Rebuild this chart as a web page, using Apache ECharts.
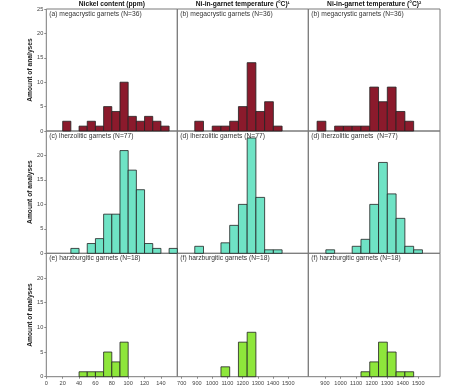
<!DOCTYPE html>
<html><head><meta charset="utf-8">
<script src="https://cdn.jsdelivr.net/npm/echarts@6/dist/echarts.min.js"></script>
<style>html,body{margin:0;padding:0;background:#fff}#c{width:474px;height:390px}</style>
</head><body><div id="c"></div>
<script>
// ---- data ----
const nickelBinStart = [0,10,20,30,40,50,60,70,80,90,100,110,120,130,140,150];
const tempBinStart = [800,850,900,950,1000,1050,1100,1150,1200,1250,1300,1350,1400,1450,1500];

const megaNickel  = [0,0,2,0,1,2,1,5,4,10,3,2,3,2,1,0];
const lherzNickel = [0,0,0,1,0,2,3,8,8,21,17,13,2,1,0,1];
const harzNickel  = [0,0,0,0,1,1,1,5,3,7,0,0,0,0,0,0];

const megaTemp1  = [0,0,2,0,1,1,2,5,14,4,6,1,0,0,0];
const lherzTemp1 = [0,0,2,0,0,3,8,14,33,16,1,1,0,0,0];
const harzTemp1  = [0,0,0,0,0,2,0,7,9,0,0,0,0,0,0];

const megaTemp2  = [0,2,0,1,1,1,1,9,6,9,4,2,0,0,0];
const lherzTemp2 = [0,0,1,0,0,2,4,14,26,17,10,2,1,0,0];
const harzTemp2  = [0,0,0,0,0,0,1,3,7,5,1,1,0,0,0];

const nickelTickLabels = ['0','20','40','60','80','100','120','140'];
const temp1TickLabels = ['700','900','1000','1100','1200','1300','1400','1500'];
const temp2TickLabels = ['900','1000','1100','1200','1300','1400','1500'];

const columnTitles = ['Nickel content (ppm)','Ni-in-garnet temperature (\u00B0C)\u00B9','Ni-in-garnet temperature (\u00B0C)\u00B2'];
const panelLabels = [
  ['(a) megacrystic garnets (N=36)','(b) megacrystic garnets (N=36)','(b) megacrystic garnets (N=36)'],
  ['(c) lherzolitic garnets (N=77)','(d) lherzolitic garnets (N=77)','(d) lherzolitic garnets  (N=77)'],
  ['(e) harzburgitic garnets (N=18)','(f) harzburgitic garnets (N=18)','(f) harzburgitic garnets (N=18)']
];
const yAxisName = 'Amount of analyses';

// ---- layout / style ----
const panelSeries = [
  [megaNickel, megaTemp1, megaTemp2],
  [lherzNickel, lherzTemp1, lherzTemp2],
  [harzNickel, harzTemp1, harzTemp2]
];
const rowColors = ['#8b1a2c', '#6fe3c5', '#8ee63b'];
const colLeft = [46.3, 177.3, 308.3];
const colWidth = [131, 131, 131.7];
const rowTop = [9, 131, 253.3];
const rowHeight = [122, 122.3, 123.4];
const yMaxGrid = [[25,25,25],[25,35,35],[25,25,25]];
const FONT = 'Liberation Sans, Arial, sans-serif';
const FS = 6.7;
const TFS = 5.6;

const grids = [], xAxes = [], yAxes = [], series = [], graphics = [];

for (let r = 0; r < 3; r++) {
  for (let c = 0; c < 3; c++) {
    const g = r * 3 + c;
    grids.push({left: colLeft[c], top: rowTop[r], width: colWidth[c], height: rowHeight[r],
      show: true, borderColor: '#7a7a7a', borderWidth: 1, backgroundColor: 'transparent'});
    const isNi = c === 0;
    const bins = isNi ? nickelBinStart : tempBinStart;
    const w = bins[1] - bins[0];
    const showX = (r === 2 && c === 0);
    const dataAxisIdx = xAxes.length;
    xAxes.push({
      gridIndex: g, type: 'value', position: 'bottom',
      min: isNi ? 0 : 800, max: isNi ? 160 : 1550,
      interval: isNi ? 20 : 50,
      axisLine: {show: false}, splitLine: {show: false},
      axisTick: {show: showX, length: 2, lineStyle: {color: '#888'}},
      axisLabel: {show: showX, showMaxLabel: false, fontSize: TFS, color: '#444', fontFamily: FONT, margin: 4,
        formatter: v => { const i = nickelTickLabels.indexOf(String(v)); return i >= 0 ? nickelTickLabels[i] : ''; }}
    });
    if (r === 2 && c > 0) {
      const labels = c === 1 ? temp1TickLabels : temp2TickLabels;
      const mn = c === 1 ? -0.289 : -1.074;
      const step = c === 1 ? 15.23 : 15.55;
      const vals = labels.map((_, i) => i);
      xAxes.push({
        gridIndex: g, type: 'value', position: 'bottom',
        min: mn, max: mn + colWidth[c] / step,
        axisLine: {show: false}, splitLine: {show: false},
        axisTick: {show: true, length: 2, customValues: vals, lineStyle: {color: '#888'}},
        axisLabel: {show: true, customValues: vals, fontSize: TFS, color: '#444', fontFamily: FONT, margin: 4,
          formatter: v => labels[Math.round(v)] || ''}
      });
    }
    yAxes.push({
      gridIndex: g, type: 'value', min: 0, max: yMaxGrid[r][c], interval: 5,
      axisLine: {show: false}, splitLine: {show: false},
      axisTick: {show: c === 0, length: 2, lineStyle: {color: '#888'}},
      axisLabel: {show: c === 0, showMaxLabel: r === 0, fontSize: TFS, color: '#444', fontFamily: FONT, margin: 3},
      name: c === 0 ? yAxisName : '', nameLocation: 'middle', nameGap: 7,
      nameTextStyle: {fontSize: FS, fontWeight: 'bold', color: '#222', fontFamily: FONT}
    });
    const counts = panelSeries[r][c];
    const data = bins.map((s, j) => [s, s + w, counts[j]]).filter(d => d[2] > 0);
    const color = rowColors[r];
    series.push({
      type: 'custom', xAxisIndex: dataAxisIdx, yAxisIndex: g, data: data,
      encode: {x: [0, 1], y: 2},
      renderItem: (params, api) => {
        const p0 = api.coord([api.value(0), api.value(2)]);
        const p1 = api.coord([api.value(1), 0]);
        return {type: 'rect', shape: {x: p0[0], y: p0[1], width: p1[0] - p0[0], height: p1[1] - p0[1]},
          style: {fill: color, stroke: '#222', lineWidth: 0.8}};
      }
    });
    graphics.push({type: 'text', x: colLeft[c] + 3, y: rowTop[r] + 5,
      style: {text: panelLabels[r][c], fontSize: FS, fontFamily: FONT, fill: '#333', verticalAlign: 'middle', align: 'left'}});
  }
}
for (let c = 0; c < 3; c++) {
  graphics.push({type: 'text', x: colLeft[c] + colWidth[c] / 2, y: 4,
    style: {text: columnTitles[c], fontSize: FS, fontWeight: 'bold', fontFamily: FONT, fill: '#111', align: 'center', verticalAlign: 'middle'}});
}

const chart = echarts.init(document.getElementById('c'), null, {renderer: 'canvas'});
chart.setOption({
  animation: false,
  backgroundColor: '#fff',
  grid: grids, xAxis: xAxes, yAxis: yAxes, series: series, graphic: graphics
});
</script></body></html>
